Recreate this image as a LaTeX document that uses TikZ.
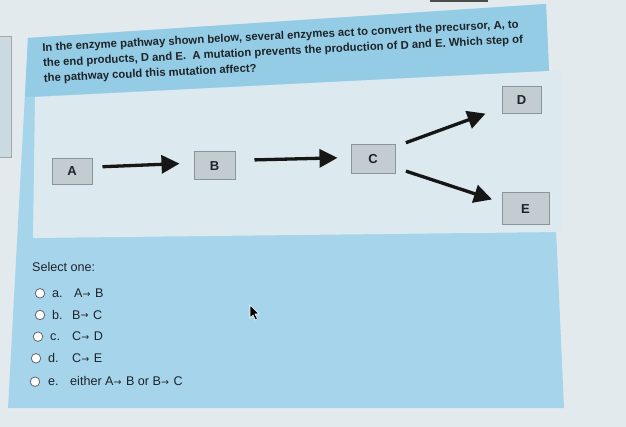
\documentclass[tikz,border=0pt]{standalone}
\usepackage{fontspec}
\setmainfont{Liberation Sans}
\newfontfamily\arrfont{DejaVu Sans}
\usetikzlibrary{arrows.meta}
\definecolor{bgc}{HTML}{E2EAEE}
\definecolor{panelc}{HTML}{A6D5EB}
\definecolor{headc}{HTML}{94CCE6}
\definecolor{diagc}{HTML}{DCE9EF}
\definecolor{boxc}{HTML}{C2CCD1}
\definecolor{boxline}{HTML}{8A959A}
\definecolor{arrc}{HTML}{161616}
\definecolor{txtc}{HTML}{1E2328}
\definecolor{sidec}{HTML}{CBDAE1}
\newcommand{\smallarr}{{\arrfont\fontsize{9.5}{12}\selectfont\raisebox{0.3pt}{→}}\hspace{1pt}}
\begin{document}
\begin{tikzpicture}[x=1pt,y=-1pt,
  headtxt/.style={anchor=north west,inner sep=0pt,align=left,rotate=2.8,font=\fontsize{11.3}{15.5}\selectfont\bfseries,text=txtc},
  pbox/.style={draw=boxline,fill=boxc,line width=1pt,inner sep=0pt,font=\fontsize{13}{15}\selectfont\bfseries,text=txtc},
  arr/.style={draw=arrc,line width=3.3pt,-{Triangle[length=18pt,width=18pt]}},
  opttxt/.style={anchor=base west,inner sep=0pt,font=\fontsize{12.6}{14}\selectfont,text=txtc},
  radio/.style={circle,draw=gray!80!black,fill=white,line width=0.8pt,minimum size=9.5pt,inner sep=0pt}]
\useasboundingbox (0,0) rectangle (626,427);
\fill[bgc] (0,0) rectangle (626,427);
% screen pieces
\filldraw[fill=sidec,draw=gray!70] (-3,36) rectangle (11,157);
\draw[line width=1.5pt,color=gray!60!black] (430,1) -- (488,1);
% blue panel
\fill[panelc] (28,38) -- (546,4) -- (564,408) -- (8,408) -- cycle;
\fill[headc] (28,38) -- (546,4) -- (549,71) -- (25,97) -- cycle;
% diagram area
\fill[diagc] (35,97) -- (549,71) -- (562,71) -- (562,232) -- (33,238) -- cycle;
% question text
\node[headtxt] (q) at (42,42.8) {In the enzyme pathway shown below, several enzymes act to convert the precursor, A, to\\
the end products, D and E.\ \ A mutation prevents the production of D and E. Which step of\\
the pathway could this mutation affect?};
% pathway
\node[pbox,minimum width=40pt,minimum height=26pt] (A) at (72,171.5) {A};
\node[pbox,minimum width=41pt,minimum height=28pt] (B) at (214.5,166) {B};
\node[pbox,minimum width=44pt,minimum height=29pt] (C) at (373,159.5) {C};
\node[pbox,minimum width=39pt,minimum height=27pt] (D) at (521.5,100.5) {D};
\node[pbox,minimum width=47pt,minimum height=32pt] (E) at (525.5,209) {E};
\draw[arr,shorten <=10pt,shorten >=14pt] (A.12) -- (B.172);
\draw[arr,shorten <=19pt,shorten >=13pt] (B.15) -- (C.175);
\draw[arr,shorten <=11pt,shorten >=17pt] (C.30) -- (D.200);
\draw[arr,shorten <=11pt,shorten >=10pt] (C.-20) -- (E.165);
% answers
\node[opttxt] (sel) at (32,272) {Select one:};
\node[radio] (ra) at (40,293.3) {};
\node[radio] (rb) at (40,315) {};
\node[radio] (rc) at (38,336.7) {};
\node[radio] (rd) at (36,358.3) {};
\node[radio] (re) at (35,381.7) {};
\node[opttxt] (la) at (52,297.5) {a.};
\node[opttxt] (lb) at (52,319.2) {b.};
\node[opttxt] (lc) at (50,340.9) {c.};
\node[opttxt] (ld) at (48,362.5) {d.};
\node[opttxt] (le) at (48,385.9) {e.};
\node[opttxt] (ta) at (74,297.5) {A\smallarr\ B};
\node[opttxt] (tb) at (72,319.2) {B\smallarr\ C};
\node[opttxt] (tc) at (72,340.9) {C\smallarr\ D};
\node[opttxt] (td) at (72,362.5) {C\smallarr\ E};
\node[opttxt] (te) at (70,385.9) {either A\smallarr\ B or B\smallarr\ C};
% mouse pointer
\filldraw[fill=black,draw=white,line width=0.6pt] (250,305) -- (250,318) -- (253,315) -- (255.5,320) -- (257.5,319) -- (255,314) -- (259,314) -- cycle;
\end{tikzpicture}
\end{document}
